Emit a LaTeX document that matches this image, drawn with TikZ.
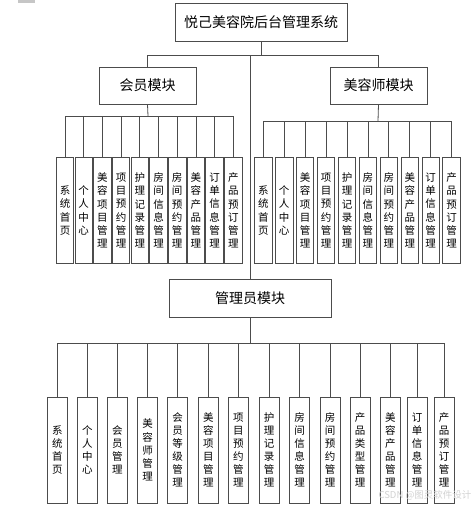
\documentclass[tikz,border=0pt]{standalone}
\usepackage{fontspec}
\setmainfont{Noto Sans CJK SC}
\begin{document}
\begin{tikzpicture}[x=1pt,y=-1pt,
  line/.style={draw=black!70,line width=0.8pt},
  bigbox/.style={draw=black!70,line width=0.9pt,fill=white,inner sep=0pt,
    font=\fontsize{14}{16}\selectfont},
  leafm/.style={draw=black!70,line width=0.9pt,fill=white,inner sep=0pt,
    minimum width=17.5pt,minimum height=105.5pt,align=center,
    font=\fontsize{10.5}{13.3}\selectfont},
  leafa/.style={draw=black!70,line width=0.9pt,fill=white,inner sep=0pt,
    minimum width=20pt,minimum height=106pt,align=center,
    font=\fontsize{10.5}{13.1}\selectfont}]
\useasboundingbox (0,0) rectangle (474,506);
\fill[gray!45] (18,0) rectangle (35,3);

% top and modules
\node[bigbox,minimum width=172pt,minimum height=38pt] (root) at (261,22) {悦己美容院后台管理系统};
\node[bigbox,minimum width=97pt,minimum height=37pt] (mem) at (147.5,85.5) {会员模块};
\node[bigbox,minimum width=97pt,minimum height=37pt] (bea) at (378.5,85.5) {美容师模块};
\node[bigbox,minimum width=162pt,minimum height=38pt] (adm) at (250,298) {管理员模块};

\coordinate (b0) at (261,55);
\draw[line] (root.south) -- (b0);
\draw[line] (mem.north) |- (b0);
\draw[line] (b0) -| (bea.north);
\draw[line] (adm.north) -- (adm.north |- b0);

% member children
\coordinate (mb) at (148,116);
\draw[line] (mem.south) -- (mb);
\foreach \t [count=\i from 0] in {
  系\\统\\首\\页, 个\\人\\中\\心, 美\\容\\项\\目\\管\\理, 项\\目\\预\\约\\管\\理,
  护\\理\\记\\录\\管\\理, 房\\间\\信\\息\\管\\理, 房\\间\\预\\约\\管\\理,
  美\\容\\产\\品\\管\\理, 订\\单\\信\\息\\管\\理, 产\\品\\预\\订\\管\\理}{
  \node[leafm] (mc\i) at ({65+\i*18.7},210.5) {\t};
  \draw[line] (mc\i.north) |- (mb);
}

% beautician children
\coordinate (bb) at (378,121);
\draw[line] (bea.south) -- (bb);
\foreach \t [count=\i from 0] in {
  系\\统\\首\\页, 个\\人\\中\\心, 美\\容\\项\\目\\管\\理, 项\\目\\预\\约\\管\\理,
  护\\理\\记\\录\\管\\理, 房\\间\\信\\息\\管\\理, 房\\间\\预\\约\\管\\理,
  美\\容\\产\\品\\管\\理, 订\\单\\信\\息\\管\\理, 产\\品\\预\\订\\管\\理}{
  \node[leafm] (bc\i) at ({263.3+\i*20.93},210.5) {\t};
  \draw[line] (bc\i.north) |- (bb);
}

% admin children
\coordinate (ab) at (250,343);
\draw[line] (adm.south) -- (ab);
\foreach \t/\x [count=\i from 0] in {
  系\\统\\首\\页/57.3, 个\\人\\中\\心/87.3, 会\\员\\管\\理/117.3, 美\\容\\师\\管\\理/147.7,
  会\\员\\等\\级\\管\\理/177.7, 美\\容\\项\\目\\管\\理/208.3, 项\\目\\预\\约\\管\\理/238.3,
  护\\理\\记\\录\\管\\理/269, 房\\间\\信\\息\\管\\理/299.7, 房\\间\\预\\约\\管\\理/330,
  产\\品\\类\\型\\管\\理/360, 美\\容\\产\\品\\管\\理/390.3, 订\\单\\信\\息\\管\\理/417,
  产\\品\\预\\订\\管\\理/444}{
  \node[leafa] (ac\i) at (\x,450) {\t};
  \draw[line] (ac\i.north) |- (ab);
}

\node[text=gray!35,font=\fontsize{9.5}{11}\selectfont,inner sep=0pt] (wm) at (425,495) {CSDN @图灵软件设计};
\end{tikzpicture}
\end{document}
